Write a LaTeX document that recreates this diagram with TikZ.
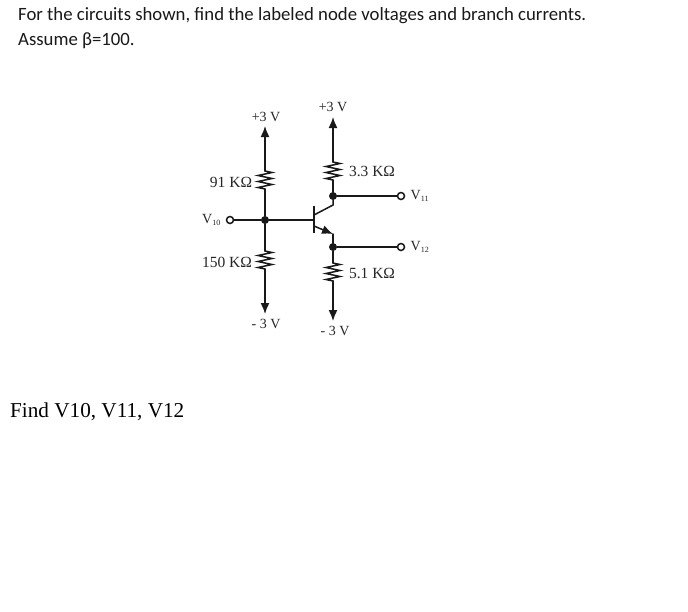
\documentclass[tikz,border=0pt]{standalone}
\usepackage{fontspec}
\setmainfont{Liberation Serif}
\newfontfamily\headfont{Carlito}
\usetikzlibrary{arrows.meta, decorations.pathmorphing, positioning}
\newcommand{\volt}[2]{V\raisebox{-2pt}{\fontsize{8}{8}\selectfont #1#2}}

\begin{document}
\begin{tikzpicture}[x=1pt,y=-1pt,>={Latex[length=11pt,width=9pt]}]
        \tikzstyle{label} = [inner sep=0pt, text=black!85, font=\fontsize{14}{14}\selectfont]
        \tikzstyle{value} = [label, font=\fontsize{15.5}{15.5}\selectfont]
        \tikzstyle{head} = [inner sep=0pt, anchor=base west, text=black!90, font=\headfont\fontsize{18.75}{18.75}\selectfont]
        \tikzstyle{res} = [decorate, decoration={zigzag, segment length=6pt, amplitude=7pt}]
        \tikzstyle{dot} = [circle, fill=black!90, inner sep=0pt, outer sep=0pt, minimum size=8pt]
        \tikzstyle{term} = [circle, draw=black!90, fill=white, line width=1.5pt, inner sep=0pt, outer sep=0pt, minimum size=7pt]
        \useasboundingbox [fill=white] (0,0) rectangle (688,611);
        %Text around the circuit
        \node [head] at (18,20) (question) {For the circuits shown, find the labeled node voltages and branch currents.};
        \node [head] at (18,45) (assume) {Assume β=100.};
        \node [inner sep=0pt, anchor=base west, font=\fontsize{21.2}{21.2}\selectfont] at (10,417) (find) {Find V10, V11, V12};
        %Creating Nodes of the left branch
        \coordinate (leftarrow) at (265,126);
        \coordinate (topres) at (265,171);
        \coordinate (topend) at (265,189);
        \coordinate (lowres) at (265,251);
        \coordinate (lowend) at (265,269);
        \coordinate (leftdown) at (265,314);
        %Creating Nodes of the transistor
        \coordinate (barup) at (314,206);
        \coordinate (bardown) at (314,233);
        \coordinate (barmid) at (314,220);
        \coordinate (colstart) at (314,215);
        \coordinate (colbend) at (333,205);
        \coordinate (emitstart) at (314,226);
        \coordinate (emitbend) at (333,234);
        %Creating Nodes of the right branch
        \coordinate (rightarrow) at (333,117);
        \coordinate (colres) at (333,162);
        \coordinate (colend) at (333,180);
        \coordinate (emres) at (333,263);
        \coordinate (emend) at (333,282);
        \coordinate (rightdown) at (333,321);
        %Labels
        \node [label] at (266,117) (vcca) {+3 V};
        \node [label] at (333,107) (vccb) {+3 V};
        \node [value] at (231,182) (rone) {91 KΩ};
        \node [value] at (227,262) (rtwo) {150 KΩ};
        \node [value] at (372,171) (rthree) {3.3 KΩ};
        \node [value] at (372,273) (rfour) {5.1 KΩ};
        \node [label] at (266,324) (veea) {- 3 V};
        \node [label] at (335,331) (veeb) {- 3 V};
        %Connecting Nodes
        \begin{scope}[line width=1.5pt, black!90, line cap=round]
            \node [dot] at (265,220) (base) {};
            \node [dot] at (333,196) (collector) {};
            \node [dot] at (333,247) (emitter) {};
            \node [term] at (230,220) (vten) {};
            \node [term] at (401,196) (velev) {};
            \node [term] at (401,247) (vtwelve) {};
            \draw[->] (topres) -- (leftarrow);
            \draw[res] (topres) -- (topend);
            \draw (topend) -- (base);
            \draw (base) -- (lowres);
            \draw[res] (lowres) -- (lowend);
            \draw[->] (lowend) -- (leftdown);
            \draw (vten) -- (base);
            \draw (base) -- (barmid);
            \draw[line width=2.2pt, line cap=butt] (barup) -- (bardown);
            \draw (colstart) -- (colbend) -- (collector);
            \draw[->] (emitstart) -- (emitbend);
            \draw (emitbend) -- (emitter);
            \draw[->] (colres) -- (rightarrow);
            \draw[res] (colres) -- (colend);
            \draw (colend) -- (collector);
            \draw (emitter) -- (emres);
            \draw[res] (emres) -- (emend);
            \draw[->] (emend) -- (rightdown);
            \draw (collector) -- (velev);
            \draw (emitter) -- (vtwelve);
        \end{scope}
        \node [label, left=6pt of vten] (lten) {\volt{1}{0}};
        \node [label, right=6pt of velev] (lelev) {\volt{1}{1}};
        \node [label, right=6pt of vtwelve] (ltwelve) {\volt{1}{2}};
    \end{tikzpicture}
\end{document}
